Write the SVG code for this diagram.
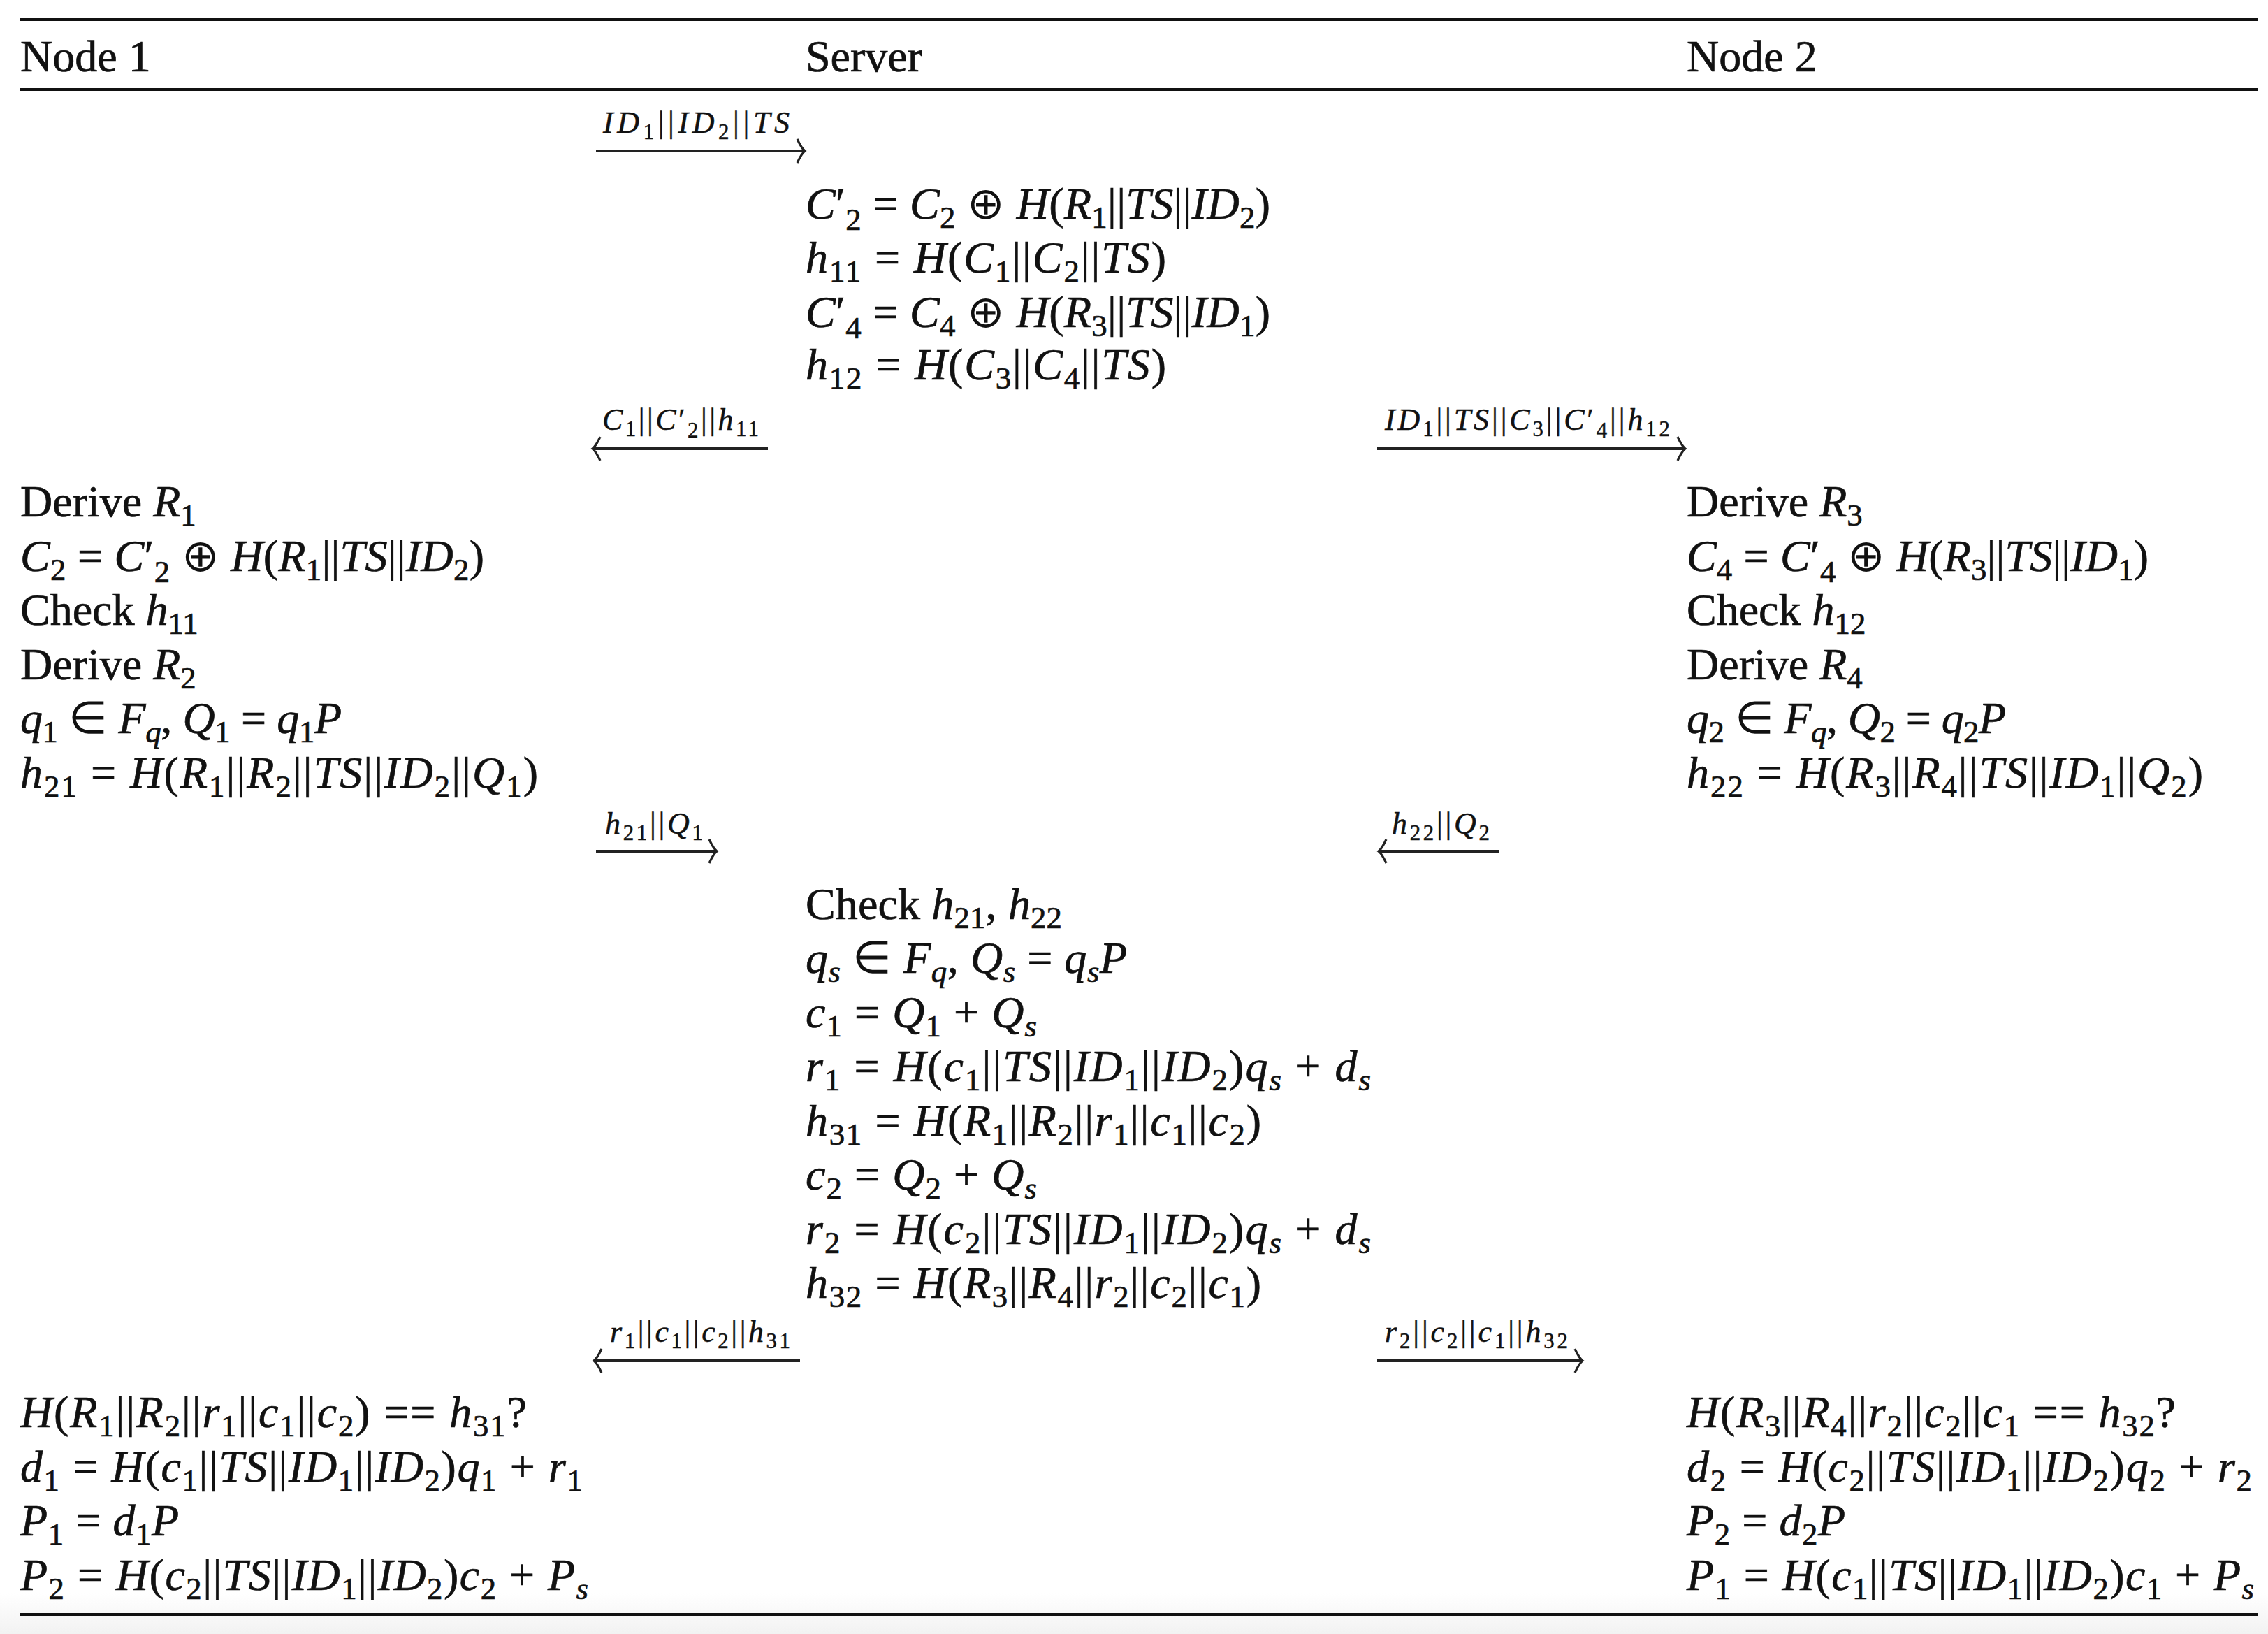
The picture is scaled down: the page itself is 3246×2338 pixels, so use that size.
<svg xmlns="http://www.w3.org/2000/svg" width="3246" height="2338" viewBox="0 0 3246 2338">
<style>
.m{font-family:"Liberation Serif","DejaVu Serif",serif;font-size:64px;fill:#111;stroke:#111;stroke-width:0.7px}
.l{font-family:"Liberation Serif","DejaVu Serif",serif;font-size:44px;fill:#111;stroke:#111;stroke-width:0.5px}
.i{font-style:italic}
.u{font-size:70%}
.o{font-family:"DejaVu Sans","Liberation Serif",sans-serif;font-weight:200;stroke-width:0}
.rule{stroke:#111;stroke-width:4}
.arr{stroke:#222;stroke-width:4;fill:none;marker-end:url(#ah)}
</style>
<defs>
<marker id="ah" markerUnits="userSpaceOnUse" viewBox="-14 -20 18 40" markerWidth="18" markerHeight="40" refX="0" refY="0" orient="auto" overflow="visible">
<path d="M-10,-17 Q-4,-4 1,0 Q-4,4 -10,17" fill="none" stroke="#222" stroke-width="3.2"/>
</marker>
<linearGradient id="bg" x1="0" y1="0" x2="0" y2="1">
<stop offset="0" stop-color="#ffffff"/>
<stop offset="1" stop-color="#f2f2f2"/>
</linearGradient>
</defs>
<rect width="3246" height="2338" fill="#fff"/>
<rect x="0" y="2280" width="3246" height="58" fill="url(#bg)"/>

<g id="rules">
<line class="rule" x1="29" y1="28" x2="3232" y2="28"/>
<line class="rule" x1="29" y1="128" x2="3232" y2="128"/>
<line class="rule" x1="29" y1="2310" x2="3232" y2="2310"/>
</g>

<g id="header">
<text class="m" x="29" y="102">Node 1</text>
<text class="m" x="1153" y="102">Server</text>
<text class="m" x="2414" y="102">Node 2</text>
</g>

<g id="connectors">
<line class="arr" x1="853" y1="216" x2="1151" y2="216"/>
<line class="arr" x1="1099" y1="642" x2="849" y2="642"/>
<line class="arr" x1="1971" y1="642" x2="2411" y2="642"/>
<line class="arr" x1="853" y1="1218" x2="1025" y2="1218"/>
<line class="arr" x1="2146" y1="1218" x2="1974" y2="1218"/>
<line class="arr" x1="1145" y1="1947" x2="851" y2="1947"/>
<line class="arr" x1="1971" y1="1947" x2="2264" y2="1947"/>
<text class="l" x="863" y="190" textLength="267" lengthAdjust="spacing"><tspan class="i">ID</tspan><tspan class="u" dy="9">1</tspan><tspan dy="-9">||</tspan><tspan class="i">ID</tspan><tspan class="u" dy="9">2</tspan><tspan dy="-9">||</tspan><tspan class="i">TS</tspan></text>
<text class="l" x="862" y="615" textLength="224" lengthAdjust="spacing"><tspan class="i">C</tspan><tspan class="u" dy="9">1</tspan><tspan dy="-9">||</tspan><tspan class="i">C</tspan>′<tspan class="u" dy="11">2</tspan><tspan dy="-11">||</tspan><tspan class="i">h</tspan><tspan class="u" dy="9">11</tspan></text>
<text class="l" x="1982" y="615" textLength="408" lengthAdjust="spacing"><tspan class="i">ID</tspan><tspan class="u" dy="9">1</tspan><tspan dy="-9">||</tspan><tspan class="i">TS</tspan>||<tspan class="i">C</tspan><tspan class="u" dy="9">3</tspan><tspan dy="-9">||</tspan><tspan class="i">C</tspan>′<tspan class="u" dy="11">4</tspan><tspan dy="-11">||</tspan><tspan class="i">h</tspan><tspan class="u" dy="9">12</tspan></text>
<text class="l" x="866" y="1193" textLength="140" lengthAdjust="spacing"><tspan class="i">h</tspan><tspan class="u" dy="9">21</tspan><tspan dy="-9">||</tspan><tspan class="i">Q</tspan><tspan class="u" dy="9">1</tspan></text>
<text class="l" x="1992" y="1193" textLength="140" lengthAdjust="spacing"><tspan class="i">h</tspan><tspan class="u" dy="9">22</tspan><tspan dy="-9">||</tspan><tspan class="i">Q</tspan><tspan class="u" dy="9">2</tspan></text>
<text class="l" x="873" y="1920" textLength="258" lengthAdjust="spacing"><tspan class="i">r</tspan><tspan class="u" dy="9">1</tspan><tspan dy="-9">||</tspan><tspan class="i">c</tspan><tspan class="u" dy="9">1</tspan><tspan dy="-9">||</tspan><tspan class="i">c</tspan><tspan class="u" dy="9">2</tspan><tspan dy="-9">||</tspan><tspan class="i">h</tspan><tspan class="u" dy="9">31</tspan></text>
<text class="l" x="1982" y="1920" textLength="262" lengthAdjust="spacing"><tspan class="i">r</tspan><tspan class="u" dy="9">2</tspan><tspan dy="-9">||</tspan><tspan class="i">c</tspan><tspan class="u" dy="9">2</tspan><tspan dy="-9">||</tspan><tspan class="i">c</tspan><tspan class="u" dy="9">1</tspan><tspan dy="-9">||</tspan><tspan class="i">h</tspan><tspan class="u" dy="9">32</tspan></text>
</g>

<g id="server-1">
<text class="m" x="1153" y="313" textLength="665" lengthAdjust="spacing"><tspan class="i">C</tspan>′<tspan class="u" dy="16">2</tspan><tspan dy="-16"> = </tspan><tspan class="i">C</tspan><tspan class="u" dy="13">2</tspan><tspan dy="-13"> </tspan><tspan class="o">⊕</tspan> <tspan class="i">H</tspan>(<tspan class="i">R</tspan><tspan class="u" dy="13">1</tspan><tspan dy="-13">||</tspan><tspan class="i">TS</tspan>||<tspan class="i">ID</tspan><tspan class="u" dy="13">2</tspan><tspan dy="-13">)</tspan></text>
<text class="m" x="1153" y="390" textLength="516" lengthAdjust="spacing"><tspan class="i">h</tspan><tspan class="u" dy="13">11</tspan><tspan dy="-13"> = </tspan><tspan class="i">H</tspan>(<tspan class="i">C</tspan><tspan class="u" dy="13">1</tspan><tspan dy="-13">||</tspan><tspan class="i">C</tspan><tspan class="u" dy="13">2</tspan><tspan dy="-13">||</tspan><tspan class="i">TS</tspan>)</text>
<text class="m" x="1153" y="468" textLength="665" lengthAdjust="spacing"><tspan class="i">C</tspan>′<tspan class="u" dy="16">4</tspan><tspan dy="-16"> = </tspan><tspan class="i">C</tspan><tspan class="u" dy="13">4</tspan><tspan dy="-13"> </tspan><tspan class="o">⊕</tspan> <tspan class="i">H</tspan>(<tspan class="i">R</tspan><tspan class="u" dy="13">3</tspan><tspan dy="-13">||</tspan><tspan class="i">TS</tspan>||<tspan class="i">ID</tspan><tspan class="u" dy="13">1</tspan><tspan dy="-13">)</tspan></text>
<text class="m" x="1153" y="543" textLength="516" lengthAdjust="spacing"><tspan class="i">h</tspan><tspan class="u" dy="13">12</tspan><tspan dy="-13"> = </tspan><tspan class="i">H</tspan>(<tspan class="i">C</tspan><tspan class="u" dy="13">3</tspan><tspan dy="-13">||</tspan><tspan class="i">C</tspan><tspan class="u" dy="13">4</tspan><tspan dy="-13">||</tspan><tspan class="i">TS</tspan>)</text>
</g>

<g id="node1-1">
<text class="m" x="29" y="739">Derive <tspan class="i">R</tspan><tspan class="u" dy="13">1</tspan></text>
<text class="m" x="29" y="817" textLength="664" lengthAdjust="spacing"><tspan class="i">C</tspan><tspan class="u" dy="13">2</tspan><tspan dy="-13"> = </tspan><tspan class="i">C</tspan>′<tspan class="u" dy="16">2</tspan><tspan dy="-16"> </tspan><tspan class="o">⊕</tspan> <tspan class="i">H</tspan>(<tspan class="i">R</tspan><tspan class="u" dy="13">1</tspan><tspan dy="-13">||</tspan><tspan class="i">TS</tspan>||<tspan class="i">ID</tspan><tspan class="u" dy="13">2</tspan><tspan dy="-13">)</tspan></text>
<text class="m" x="29" y="894">Check <tspan class="i">h</tspan><tspan class="u" dy="13">11</tspan></text>
<text class="m" x="29" y="972">Derive <tspan class="i">R</tspan><tspan class="u" dy="13">2</tspan></text>
<text class="m" x="29" y="1049" textLength="460" lengthAdjust="spacing"><tspan class="i">q</tspan><tspan class="u" dy="13">1</tspan><tspan dy="-13"> </tspan><tspan class="o">∈</tspan> <tspan class="i">F</tspan><tspan class="u i" dy="13">q</tspan><tspan dy="-13">, </tspan><tspan class="i">Q</tspan><tspan class="u" dy="13">1</tspan><tspan dy="-13"> = </tspan><tspan class="i">q</tspan><tspan class="u" dy="13">1</tspan><tspan class="i" dy="-13">P</tspan></text>
<text class="m" x="29" y="1127" textLength="741" lengthAdjust="spacing"><tspan class="i">h</tspan><tspan class="u" dy="13">21</tspan><tspan dy="-13"> = </tspan><tspan class="i">H</tspan>(<tspan class="i">R</tspan><tspan class="u" dy="13">1</tspan><tspan dy="-13">||</tspan><tspan class="i">R</tspan><tspan class="u" dy="13">2</tspan><tspan dy="-13">||</tspan><tspan class="i">TS</tspan>||<tspan class="i">ID</tspan><tspan class="u" dy="13">2</tspan><tspan dy="-13">||</tspan><tspan class="i">Q</tspan><tspan class="u" dy="13">1</tspan><tspan dy="-13">)</tspan></text>
</g>

<g id="node2-1">
<text class="m" x="2414" y="739">Derive <tspan class="i">R</tspan><tspan class="u" dy="13">3</tspan></text>
<text class="m" x="2414" y="817" textLength="661" lengthAdjust="spacing"><tspan class="i">C</tspan><tspan class="u" dy="13">4</tspan><tspan dy="-13"> = </tspan><tspan class="i">C</tspan>′<tspan class="u" dy="16">4</tspan><tspan dy="-16"> </tspan><tspan class="o">⊕</tspan> <tspan class="i">H</tspan>(<tspan class="i">R</tspan><tspan class="u" dy="13">3</tspan><tspan dy="-13">||</tspan><tspan class="i">TS</tspan>||<tspan class="i">ID</tspan><tspan class="u" dy="13">1</tspan><tspan dy="-13">)</tspan></text>
<text class="m" x="2414" y="894">Check <tspan class="i">h</tspan><tspan class="u" dy="13">12</tspan></text>
<text class="m" x="2414" y="972">Derive <tspan class="i">R</tspan><tspan class="u" dy="13">4</tspan></text>
<text class="m" x="2414" y="1049" textLength="457" lengthAdjust="spacing"><tspan class="i">q</tspan><tspan class="u" dy="13">2</tspan><tspan dy="-13"> </tspan><tspan class="o">∈</tspan> <tspan class="i">F</tspan><tspan class="u i" dy="13">q</tspan><tspan dy="-13">, </tspan><tspan class="i">Q</tspan><tspan class="u" dy="13">2</tspan><tspan dy="-13"> = </tspan><tspan class="i">q</tspan><tspan class="u" dy="13">2</tspan><tspan class="i" dy="-13">P</tspan></text>
<text class="m" x="2414" y="1127" textLength="739" lengthAdjust="spacing"><tspan class="i">h</tspan><tspan class="u" dy="13">22</tspan><tspan dy="-13"> = </tspan><tspan class="i">H</tspan>(<tspan class="i">R</tspan><tspan class="u" dy="13">3</tspan><tspan dy="-13">||</tspan><tspan class="i">R</tspan><tspan class="u" dy="13">4</tspan><tspan dy="-13">||</tspan><tspan class="i">TS</tspan>||<tspan class="i">ID</tspan><tspan class="u" dy="13">1</tspan><tspan dy="-13">||</tspan><tspan class="i">Q</tspan><tspan class="u" dy="13">2</tspan><tspan dy="-13">)</tspan></text>
</g>

<g id="server-2">
<text class="m" x="1153" y="1315" textLength="367" lengthAdjust="spacing">Check <tspan class="i">h</tspan><tspan class="u" dy="13">21</tspan><tspan dy="-13">, </tspan><tspan class="i">h</tspan><tspan class="u" dy="13">22</tspan></text>
<text class="m" x="1153" y="1392" textLength="460" lengthAdjust="spacing"><tspan class="i">q</tspan><tspan class="u i" dy="13">s</tspan><tspan dy="-13"> </tspan><tspan class="o">∈</tspan> <tspan class="i">F</tspan><tspan class="u i" dy="13">q</tspan><tspan dy="-13">, </tspan><tspan class="i">Q</tspan><tspan class="u i" dy="13">s</tspan><tspan dy="-13"> = </tspan><tspan class="i">q</tspan><tspan class="u i" dy="13">s</tspan><tspan class="i" dy="-13">P</tspan></text>
<text class="m" x="1153" y="1470" textLength="331" lengthAdjust="spacing"><tspan class="i">c</tspan><tspan class="u" dy="13">1</tspan><tspan dy="-13"> = </tspan><tspan class="i">Q</tspan><tspan class="u" dy="13">1</tspan><tspan dy="-13"> + </tspan><tspan class="i">Q</tspan><tspan class="u i" dy="13">s</tspan></text>
<text class="m" x="1153" y="1547" textLength="809" lengthAdjust="spacing"><tspan class="i">r</tspan><tspan class="u" dy="13">1</tspan><tspan dy="-13"> = </tspan><tspan class="i">H</tspan>(<tspan class="i">c</tspan><tspan class="u" dy="13">1</tspan><tspan dy="-13">||</tspan><tspan class="i">TS</tspan>||<tspan class="i">ID</tspan><tspan class="u" dy="13">1</tspan><tspan dy="-13">||</tspan><tspan class="i">ID</tspan><tspan class="u" dy="13">2</tspan><tspan dy="-13">)</tspan><tspan class="i">q</tspan><tspan class="u i" dy="13">s</tspan><tspan dy="-13"> + </tspan><tspan class="i">d</tspan><tspan class="u i" dy="13">s</tspan></text>
<text class="m" x="1153" y="1625" textLength="652" lengthAdjust="spacing"><tspan class="i">h</tspan><tspan class="u" dy="13">31</tspan><tspan dy="-13"> = </tspan><tspan class="i">H</tspan>(<tspan class="i">R</tspan><tspan class="u" dy="13">1</tspan><tspan dy="-13">||</tspan><tspan class="i">R</tspan><tspan class="u" dy="13">2</tspan><tspan dy="-13">||</tspan><tspan class="i">r</tspan><tspan class="u" dy="13">1</tspan><tspan dy="-13">||</tspan><tspan class="i">c</tspan><tspan class="u" dy="13">1</tspan><tspan dy="-13">||</tspan><tspan class="i">c</tspan><tspan class="u" dy="13">2</tspan><tspan dy="-13">)</tspan></text>
<text class="m" x="1153" y="1702" textLength="331" lengthAdjust="spacing"><tspan class="i">c</tspan><tspan class="u" dy="13">2</tspan><tspan dy="-13"> = </tspan><tspan class="i">Q</tspan><tspan class="u" dy="13">2</tspan><tspan dy="-13"> + </tspan><tspan class="i">Q</tspan><tspan class="u i" dy="13">s</tspan></text>
<text class="m" x="1153" y="1780" textLength="809" lengthAdjust="spacing"><tspan class="i">r</tspan><tspan class="u" dy="13">2</tspan><tspan dy="-13"> = </tspan><tspan class="i">H</tspan>(<tspan class="i">c</tspan><tspan class="u" dy="13">2</tspan><tspan dy="-13">||</tspan><tspan class="i">TS</tspan>||<tspan class="i">ID</tspan><tspan class="u" dy="13">1</tspan><tspan dy="-13">||</tspan><tspan class="i">ID</tspan><tspan class="u" dy="13">2</tspan><tspan dy="-13">)</tspan><tspan class="i">q</tspan><tspan class="u i" dy="13">s</tspan><tspan dy="-13"> + </tspan><tspan class="i">d</tspan><tspan class="u i" dy="13">s</tspan></text>
<text class="m" x="1153" y="1857" textLength="652" lengthAdjust="spacing"><tspan class="i">h</tspan><tspan class="u" dy="13">32</tspan><tspan dy="-13"> = </tspan><tspan class="i">H</tspan>(<tspan class="i">R</tspan><tspan class="u" dy="13">3</tspan><tspan dy="-13">||</tspan><tspan class="i">R</tspan><tspan class="u" dy="13">4</tspan><tspan dy="-13">||</tspan><tspan class="i">r</tspan><tspan class="u" dy="13">2</tspan><tspan dy="-13">||</tspan><tspan class="i">c</tspan><tspan class="u" dy="13">2</tspan><tspan dy="-13">||</tspan><tspan class="i">c</tspan><tspan class="u" dy="13">1</tspan><tspan dy="-13">)</tspan></text>
</g>

<g id="node1-2">
<text class="m" x="29" y="2042" textLength="725" lengthAdjust="spacing"><tspan class="i">H</tspan>(<tspan class="i">R</tspan><tspan class="u" dy="13">1</tspan><tspan dy="-13">||</tspan><tspan class="i">R</tspan><tspan class="u" dy="13">2</tspan><tspan dy="-13">||</tspan><tspan class="i">r</tspan><tspan class="u" dy="13">1</tspan><tspan dy="-13">||</tspan><tspan class="i">c</tspan><tspan class="u" dy="13">1</tspan><tspan dy="-13">||</tspan><tspan class="i">c</tspan><tspan class="u" dy="13">2</tspan><tspan dy="-13">) == </tspan><tspan class="i">h</tspan><tspan class="u" dy="13">31</tspan><tspan dy="-13">?</tspan></text>
<text class="m" x="29" y="2120" textLength="805" lengthAdjust="spacing"><tspan class="i">d</tspan><tspan class="u" dy="13">1</tspan><tspan dy="-13"> = </tspan><tspan class="i">H</tspan>(<tspan class="i">c</tspan><tspan class="u" dy="13">1</tspan><tspan dy="-13">||</tspan><tspan class="i">TS</tspan>||<tspan class="i">ID</tspan><tspan class="u" dy="13">1</tspan><tspan dy="-13">||</tspan><tspan class="i">ID</tspan><tspan class="u" dy="13">2</tspan><tspan dy="-13">)</tspan><tspan class="i">q</tspan><tspan class="u" dy="13">1</tspan><tspan dy="-13"> + </tspan><tspan class="i">r</tspan><tspan class="u" dy="13">1</tspan></text>
<text class="m" x="29" y="2197" textLength="227" lengthAdjust="spacing"><tspan class="i">P</tspan><tspan class="u" dy="13">1</tspan><tspan dy="-13"> = </tspan><tspan class="i">d</tspan><tspan class="u" dy="13">1</tspan><tspan class="i" dy="-13">P</tspan></text>
<text class="m" x="29" y="2275" textLength="813" lengthAdjust="spacing"><tspan class="i">P</tspan><tspan class="u" dy="13">2</tspan><tspan dy="-13"> = </tspan><tspan class="i">H</tspan>(<tspan class="i">c</tspan><tspan class="u" dy="13">2</tspan><tspan dy="-13">||</tspan><tspan class="i">TS</tspan>||<tspan class="i">ID</tspan><tspan class="u" dy="13">1</tspan><tspan dy="-13">||</tspan><tspan class="i">ID</tspan><tspan class="u" dy="13">2</tspan><tspan dy="-13">)</tspan><tspan class="i">c</tspan><tspan class="u" dy="13">2</tspan><tspan dy="-13"> + </tspan><tspan class="i">P</tspan><tspan class="u i" dy="13">s</tspan></text>
</g>

<g id="node2-2">
<text class="m" x="2414" y="2042" textLength="700" lengthAdjust="spacing"><tspan class="i">H</tspan>(<tspan class="i">R</tspan><tspan class="u" dy="13">3</tspan><tspan dy="-13">||</tspan><tspan class="i">R</tspan><tspan class="u" dy="13">4</tspan><tspan dy="-13">||</tspan><tspan class="i">r</tspan><tspan class="u" dy="13">2</tspan><tspan dy="-13">||</tspan><tspan class="i">c</tspan><tspan class="u" dy="13">2</tspan><tspan dy="-13">||</tspan><tspan class="i">c</tspan><tspan class="u" dy="13">1</tspan><tspan dy="-13"> == </tspan><tspan class="i">h</tspan><tspan class="u" dy="13">32</tspan><tspan dy="-13">?</tspan></text>
<text class="m" x="2414" y="2120" textLength="809" lengthAdjust="spacing"><tspan class="i">d</tspan><tspan class="u" dy="13">2</tspan><tspan dy="-13"> = </tspan><tspan class="i">H</tspan>(<tspan class="i">c</tspan><tspan class="u" dy="13">2</tspan><tspan dy="-13">||</tspan><tspan class="i">TS</tspan>||<tspan class="i">ID</tspan><tspan class="u" dy="13">1</tspan><tspan dy="-13">||</tspan><tspan class="i">ID</tspan><tspan class="u" dy="13">2</tspan><tspan dy="-13">)</tspan><tspan class="i">q</tspan><tspan class="u" dy="13">2</tspan><tspan dy="-13"> + </tspan><tspan class="i">r</tspan><tspan class="u" dy="13">2</tspan></text>
<text class="m" x="2414" y="2197" textLength="227" lengthAdjust="spacing"><tspan class="i">P</tspan><tspan class="u" dy="13">2</tspan><tspan dy="-13"> = </tspan><tspan class="i">d</tspan><tspan class="u" dy="13">2</tspan><tspan class="i" dy="-13">P</tspan></text>
<text class="m" x="2414" y="2275" textLength="812" lengthAdjust="spacing"><tspan class="i">P</tspan><tspan class="u" dy="13">1</tspan><tspan dy="-13"> = </tspan><tspan class="i">H</tspan>(<tspan class="i">c</tspan><tspan class="u" dy="13">1</tspan><tspan dy="-13">||</tspan><tspan class="i">TS</tspan>||<tspan class="i">ID</tspan><tspan class="u" dy="13">1</tspan><tspan dy="-13">||</tspan><tspan class="i">ID</tspan><tspan class="u" dy="13">2</tspan><tspan dy="-13">)</tspan><tspan class="i">c</tspan><tspan class="u" dy="13">1</tspan><tspan dy="-13"> + </tspan><tspan class="i">P</tspan><tspan class="u i" dy="13">s</tspan></text>
</g>
</svg>
